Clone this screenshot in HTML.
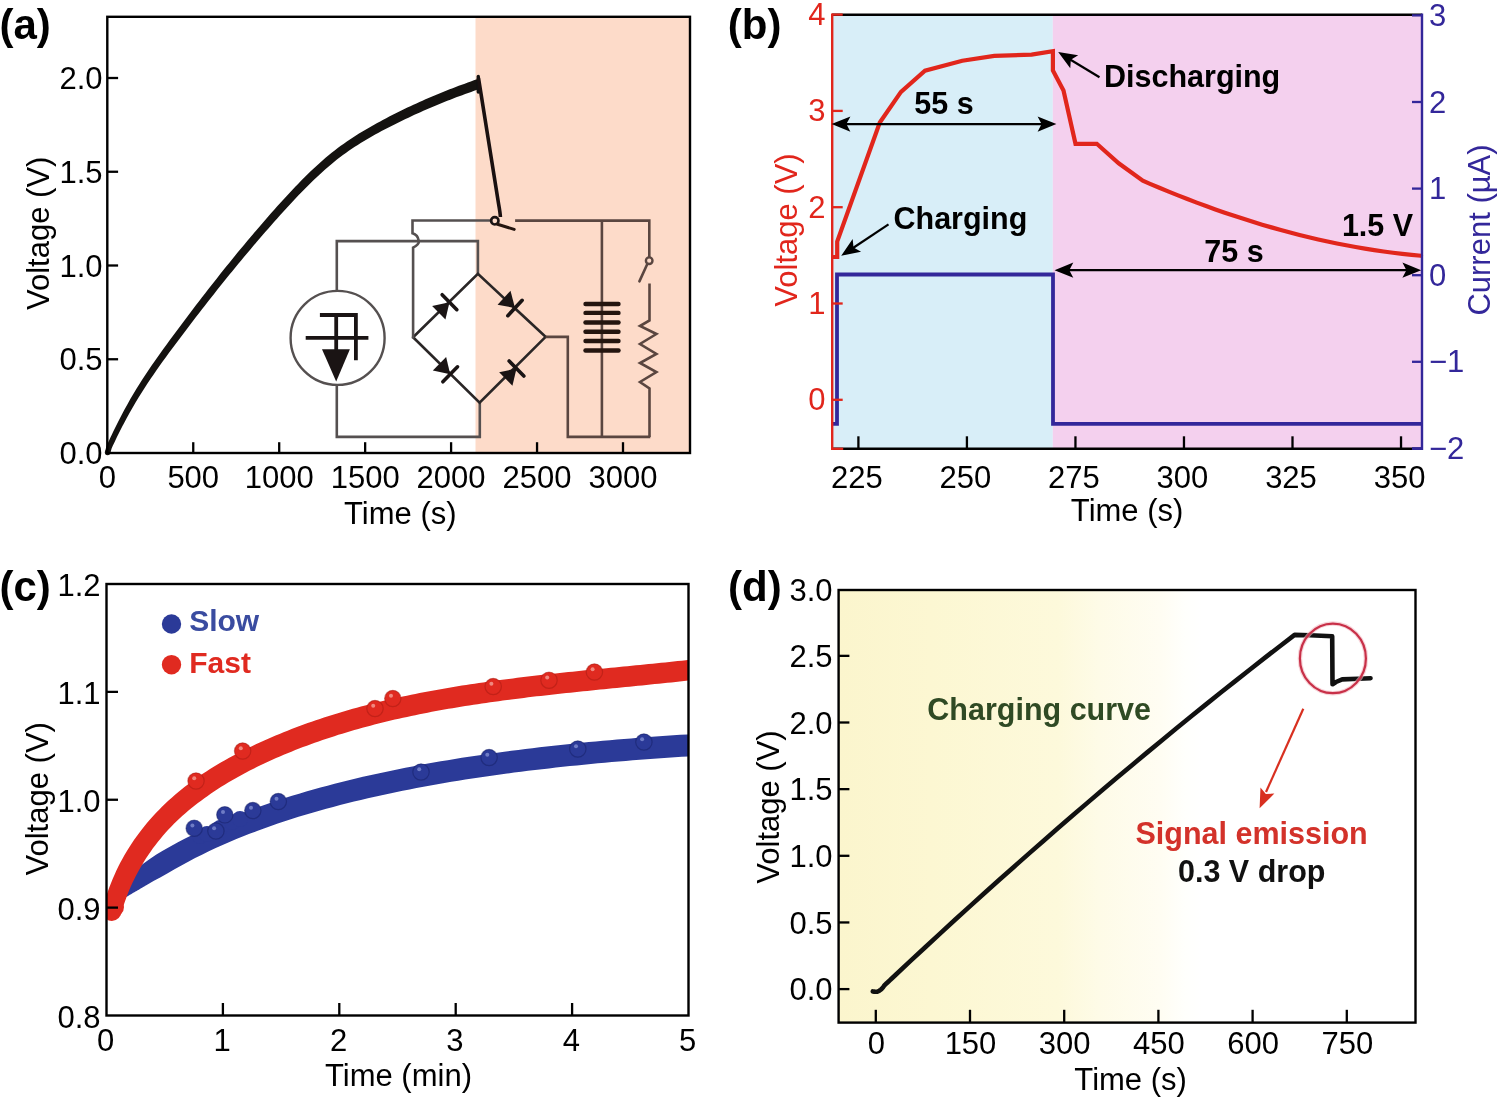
<!DOCTYPE html>
<html><head><meta charset="utf-8"><title>Figure</title>
<style>html,body{margin:0;padding:0;background:#fff;}svg{display:block;}</style>
</head><body>
<svg width="1502" height="1099" viewBox="0 0 1502 1099" font-family="'Liberation Sans', Arial, Helvetica, sans-serif"><rect x="475.50" y="16.80" width="214.50" height="436.20" fill="#FDDBC9" stroke="none" stroke-width="0"/>
<path d="M110.26,453.32 L111.61,448.39 L112.90,445.62 L114.29,442.65 L115.68,439.73 L117.06,436.85 L118.45,434.03 L119.84,431.24 L121.22,428.51 L122.61,425.81 L123.61,423.89 L126.64,418.21 L129.66,412.73 L132.68,407.42 L135.70,402.27 L138.72,397.27 L141.74,392.41 L144.76,387.68 L147.78,383.07 L150.80,378.56 L153.82,374.15 L156.82,369.82 L159.82,365.55 L162.83,361.36 L165.83,357.21 L168.84,353.11 L171.85,349.03 L174.87,344.98 L177.88,340.95 L180.89,336.93 L183.91,332.93 L186.92,328.94 L189.93,324.98 L192.95,321.03 L195.96,317.10 L198.97,313.18 L201.99,309.29 L205.00,305.42 L208.01,301.56 L211.02,297.72 L214.04,293.90 L217.05,290.10 L220.06,286.32 L223.07,282.56 L226.08,278.82 L229.09,275.11 L232.11,271.41 L235.12,267.73 L238.13,264.07 L241.14,260.43 L244.15,256.81 L247.16,253.22 L250.17,249.65 L253.18,246.09 L256.19,242.56 L259.20,239.05 L262.20,235.56 L265.21,232.10 L268.21,228.65 L271.22,225.23 L274.23,221.83 L277.23,218.46 L280.24,215.11 L283.24,211.78 L286.24,208.48 L289.24,205.21 L292.24,201.97 L295.24,198.77 L298.24,195.61 L301.23,192.50 L304.22,189.43 L307.21,186.41 L310.20,183.44 L313.19,180.53 L316.17,177.67 L319.15,174.88 L322.13,172.15 L325.10,169.49 L328.07,166.90 L331.04,164.38 L334.00,161.95 L336.96,159.58 L339.93,157.30 L342.90,155.08 L345.86,152.93 L348.83,150.84 L351.80,148.82 L354.77,146.85 L357.74,144.93 L360.71,143.06 L363.68,141.24 L366.65,139.46 L369.63,137.73 L372.61,136.03 L375.59,134.36 L378.57,132.73 L381.55,131.12 L384.54,129.54 L387.53,127.99 L390.52,126.45 L393.51,124.93 L396.50,123.44 L399.49,121.97 L402.48,120.51 L405.47,119.07 L408.45,117.65 L411.44,116.25 L414.42,114.86 L417.41,113.50 L420.39,112.15 L423.38,110.83 L426.36,109.52 L429.35,108.23 L432.34,106.95 L435.32,105.70 L438.31,104.46 L441.29,103.24 L444.28,102.03 L447.27,100.84 L450.25,99.67 L453.24,98.51 L456.23,97.37 L459.21,96.24 L462.20,95.13 L465.19,94.04 L468.18,92.95 L471.17,91.88 L474.15,90.83 L477.14,89.79 L480.14,88.76 L476.86,79.31 L473.85,80.37 L470.83,81.44 L467.81,82.53 L464.79,83.63 L461.77,84.74 L458.75,85.87 L455.73,87.02 L452.71,88.18 L449.68,89.35 L446.66,90.54 L443.64,91.75 L440.62,92.98 L437.60,94.22 L434.57,95.47 L431.55,96.75 L428.53,98.04 L425.51,99.35 L422.48,100.68 L419.46,102.02 L416.44,103.39 L413.42,104.77 L410.39,106.17 L407.37,107.59 L404.35,109.04 L401.32,110.50 L398.30,111.98 L395.28,113.49 L392.26,115.03 L389.24,116.58 L386.23,118.16 L383.21,119.75 L380.19,121.38 L377.17,123.02 L374.14,124.69 L371.12,126.40 L368.09,128.14 L365.06,129.92 L362.03,131.74 L358.99,133.60 L355.96,135.51 L352.92,137.47 L349.88,139.48 L346.84,141.55 L343.80,143.68 L340.76,145.87 L337.72,148.12 L334.67,150.45 L331.63,152.84 L328.59,155.31 L325.54,157.85 L322.50,160.46 L319.46,163.15 L316.43,165.90 L313.40,168.71 L310.37,171.58 L307.34,174.52 L304.32,177.50 L301.30,180.54 L298.28,183.63 L295.26,186.76 L292.25,189.93 L289.24,193.15 L286.23,196.40 L283.22,199.68 L280.21,203.00 L277.21,206.34 L274.20,209.71 L271.20,213.10 L268.19,216.51 L265.19,219.95 L262.19,223.41 L259.19,226.89 L256.18,230.39 L253.18,233.92 L250.18,237.46 L247.18,241.03 L244.18,244.63 L241.19,248.24 L238.19,251.87 L235.19,255.53 L232.19,259.21 L229.19,262.90 L226.20,266.62 L223.20,270.36 L220.20,274.11 L217.21,277.89 L214.21,281.68 L211.21,285.50 L208.22,289.33 L205.22,293.19 L202.22,297.06 L199.23,300.95 L196.23,304.86 L193.24,308.79 L190.24,312.73 L187.25,316.70 L184.25,320.68 L181.26,324.68 L178.26,328.69 L175.27,332.73 L172.27,336.78 L169.28,340.85 L166.28,344.93 L163.28,349.04 L160.28,353.19 L157.28,357.39 L154.28,361.65 L151.27,365.97 L148.27,370.38 L145.27,374.88 L142.29,379.49 L139.30,384.20 L136.31,389.04 L133.32,394.01 L130.33,399.12 L127.34,404.38 L124.36,409.80 L121.37,415.40 L118.39,421.17 L117.39,423.15 L116.02,425.89 L114.65,428.68 L113.28,431.51 L111.91,434.39 L110.55,437.31 L109.18,440.28 L107.81,443.30 L106.35,446.61 L104.94,451.88 Z" fill="#141210"/>
<circle cx="107.60" cy="452.60" r="2.76" fill="#141210"/>
<polyline points="478.30,92.00 478.30,76.50" fill="none" stroke="#111" stroke-width="3.4" stroke-linejoin="round" stroke-linecap="round"/>
<path d="M478.5,78 L498.6,204 Q500.2,213 500.4,217" fill="none" stroke="#1a1010" stroke-width="3.6"/>
<g stroke-linecap="square">
<polyline points="336.80,290.50 336.80,241.10 477.90,241.10 477.90,273.80" fill="none" stroke="#555050" stroke-width="2.6" stroke-linejoin="miter" stroke-linecap="butt"/>
<polyline points="336.80,385.00 336.80,436.90 479.80,436.90 479.80,402.70" fill="none" stroke="#555050" stroke-width="2.6" stroke-linejoin="miter" stroke-linecap="butt"/>
<circle cx="337.6" cy="337.9" r="47" fill="none" stroke="#555050" stroke-width="2.4"/>
<polyline points="305.70,337.90 368.40,337.90" fill="none" stroke="#1a1414" stroke-width="3.8" stroke-linejoin="round" stroke-linecap="butt"/>
<polyline points="319.90,315.00 355.90,315.00 355.90,360.30" fill="none" stroke="#1a1414" stroke-width="3.8" stroke-linecap="butt" stroke-linejoin="miter"/>
<polyline points="336.20,315.00 336.20,352.00" fill="none" stroke="#1a1414" stroke-width="3.8" stroke-linejoin="round" stroke-linecap="butt"/>
<path d="M322,349.3 L349.9,349.3 L336.2,381.5 Z" fill="#1a1414"/>
<polyline points="413.10,337.20 477.90,273.80 545.60,336.90 479.60,402.70 413.10,337.20" fill="none" stroke="#2a2626" stroke-width="2.6" stroke-linecap="round" stroke-linejoin="miter"/>
<path d="M413.1,337.2 L413.1,247.6 Q420,244 418.6,240.5 Q418,235 412.5,233.3 L412.5,220.5 L491,220.5" fill="none" stroke="#555050" stroke-width="2.6" stroke-linejoin="miter"/>
<circle cx="494.8" cy="220.8" r="3.7" fill="none" stroke="#1a1414" stroke-width="2.6"/>
<polyline points="497.50,224.30 514.20,229.40" fill="none" stroke="#24150f" stroke-width="3" stroke-linejoin="round" stroke-linecap="round"/>
<polyline points="515.10,220.60 649.30,220.60 649.30,257.30" fill="none" stroke="#5A4640" stroke-width="2.6" stroke-linejoin="miter" stroke-linecap="butt"/>
<polyline points="545.60,336.90 567.80,336.90 567.80,436.90 650.30,436.90" fill="none" stroke="#5A4640" stroke-width="2.6" stroke-linejoin="miter" stroke-linecap="butt"/>
<polyline points="601.90,220.60 601.90,436.90" fill="none" stroke="#5A4640" stroke-width="2.6" stroke-linejoin="round" stroke-linecap="butt"/>
<polyline points="585.50,304.00 618.50,304.00" fill="none" stroke="#24150f" stroke-width="4.4" stroke-linejoin="round" stroke-linecap="round"/>
<polyline points="585.50,312.90 618.50,312.90" fill="none" stroke="#24150f" stroke-width="4.4" stroke-linejoin="round" stroke-linecap="round"/>
<polyline points="585.50,322.50 618.50,322.50" fill="none" stroke="#24150f" stroke-width="4.4" stroke-linejoin="round" stroke-linecap="round"/>
<polyline points="585.50,331.70 618.50,331.70" fill="none" stroke="#24150f" stroke-width="4.4" stroke-linejoin="round" stroke-linecap="round"/>
<polyline points="585.50,341.00 618.50,341.00" fill="none" stroke="#24150f" stroke-width="4.4" stroke-linejoin="round" stroke-linecap="round"/>
<polyline points="585.50,350.50 618.50,350.50" fill="none" stroke="#24150f" stroke-width="4.4" stroke-linejoin="round" stroke-linecap="round"/>
<circle cx="649.2" cy="260.7" r="3.3" fill="none" stroke="#5A4640" stroke-width="2.4"/>
<polyline points="647.20,264.30 639.40,281.40" fill="none" stroke="#5A4640" stroke-width="2.6" stroke-linejoin="round" stroke-linecap="round"/>
<polyline points="649.50,283.50 649.50,320.50 640.00,326.00 656.40,334.00 640.00,344.00 656.40,354.00 640.00,363.00 656.40,372.00 640.00,382.00 649.50,388.50 649.50,436.90" fill="none" stroke="#5A4640" stroke-width="2.6" stroke-linejoin="miter" stroke-linecap="butt"/>
</g>
<path d="M449.50,302.20 L445.43,319.48 L432.14,305.91 Z" fill="#1a1414"/>
<polyline points="456.85,309.70 442.15,294.70" fill="none" stroke="#1a1414" stroke-width="3.6" stroke-linejoin="round" stroke-linecap="round"/>
<path d="M515.00,308.00 L497.55,304.72 L510.51,290.82 Z" fill="#1a1414"/>
<polyline points="507.84,315.68 522.16,300.32" fill="none" stroke="#1a1414" stroke-width="3.6" stroke-linejoin="round" stroke-linecap="round"/>
<path d="M450.20,374.30 L432.84,370.59 L446.13,357.02 Z" fill="#1a1414"/>
<polyline points="442.85,381.80 457.55,366.80" fill="none" stroke="#1a1414" stroke-width="3.6" stroke-linejoin="round" stroke-linecap="round"/>
<path d="M516.50,368.50 L512.43,385.78 L499.14,372.21 Z" fill="#1a1414"/>
<polyline points="523.85,376.00 509.15,361.00" fill="none" stroke="#1a1414" stroke-width="3.6" stroke-linejoin="round" stroke-linecap="round"/>
<rect x="107.30" y="16.80" width="582.70" height="436.20" fill="none" stroke="#000" stroke-width="2.4"/>
<text x="107.30" y="488.00" font-size="31" text-anchor="middle" font-weight="normal" fill="#000">0</text>
<line x1="193.25" y1="453.00" x2="193.25" y2="442.20" stroke="#000" stroke-width="2.3"/>
<text x="193.25" y="488.00" font-size="31" text-anchor="middle" font-weight="normal" fill="#000">500</text>
<line x1="279.20" y1="453.00" x2="279.20" y2="442.20" stroke="#000" stroke-width="2.3"/>
<text x="279.20" y="488.00" font-size="31" text-anchor="middle" font-weight="normal" fill="#000">1000</text>
<line x1="365.15" y1="453.00" x2="365.15" y2="442.20" stroke="#000" stroke-width="2.3"/>
<text x="365.15" y="488.00" font-size="31" text-anchor="middle" font-weight="normal" fill="#000">1500</text>
<line x1="451.10" y1="453.00" x2="451.10" y2="442.20" stroke="#000" stroke-width="2.3"/>
<text x="451.10" y="488.00" font-size="31" text-anchor="middle" font-weight="normal" fill="#000">2000</text>
<line x1="537.05" y1="453.00" x2="537.05" y2="442.20" stroke="#000" stroke-width="2.3"/>
<text x="537.05" y="488.00" font-size="31" text-anchor="middle" font-weight="normal" fill="#000">2500</text>
<line x1="623.00" y1="453.00" x2="623.00" y2="442.20" stroke="#000" stroke-width="2.3"/>
<text x="623.00" y="488.00" font-size="31" text-anchor="middle" font-weight="normal" fill="#000">3000</text>
<text x="102.50" y="464.00" font-size="31" text-anchor="end" font-weight="normal" fill="#000">0.0</text>
<line x1="107.30" y1="359.25" x2="118.10" y2="359.25" stroke="#000" stroke-width="2.3"/>
<text x="102.50" y="370.25" font-size="31" text-anchor="end" font-weight="normal" fill="#000">0.5</text>
<line x1="107.30" y1="265.50" x2="118.10" y2="265.50" stroke="#000" stroke-width="2.3"/>
<text x="102.50" y="276.50" font-size="31" text-anchor="end" font-weight="normal" fill="#000">1.0</text>
<line x1="107.30" y1="171.75" x2="118.10" y2="171.75" stroke="#000" stroke-width="2.3"/>
<text x="102.50" y="182.75" font-size="31" text-anchor="end" font-weight="normal" fill="#000">1.5</text>
<line x1="107.30" y1="78.00" x2="118.10" y2="78.00" stroke="#000" stroke-width="2.3"/>
<text x="102.50" y="89.00" font-size="31" text-anchor="end" font-weight="normal" fill="#000">2.0</text>
<text x="400.30" y="524.00" font-size="31" text-anchor="middle" font-weight="normal" fill="#000">Time (s)</text>
<text x="49.50" y="233.30" font-size="31" text-anchor="middle" font-weight="normal" fill="#000" transform="rotate(-90 49.5 233.3)">Voltage (V)</text>
<text x="-0.50" y="38.50" font-size="42" text-anchor="start" font-weight="bold" fill="#000">(a)</text>
<rect x="832.20" y="14.80" width="220.60" height="434.00" fill="#D8EEF8" stroke="none" stroke-width="0"/>
<rect x="1052.80" y="14.80" width="369.20" height="434.00" fill="#F4D0EE" stroke="none" stroke-width="0"/>
<polyline points="833.00,423.80 837.00,423.80 837.00,274.50 1053.00,274.50 1053.00,423.80 1421.00,423.80" fill="none" stroke="#33279A" stroke-width="3.8" stroke-linecap="butt" stroke-linejoin="miter"/>
<polyline points="833.50,257.00 837.20,257.00 837.20,241.50 879.80,122.50 901.00,91.90 925.00,70.60 962.30,60.70 994.30,55.90 1031.60,54.60 1052.90,51.10 1052.90,70.60 1063.50,90.50 1075.50,143.80 1096.80,143.80 1118.70,163.30 1142.80,180.70 1150.00,183.84 1159.34,187.78 1168.69,191.63 1178.03,195.38 1187.38,199.03 1196.72,202.59 1206.07,206.05 1215.41,209.41 1224.76,212.66 1234.10,215.82 1243.45,218.87 1252.79,221.82 1262.14,224.66 1271.48,227.39 1280.83,230.02 1290.17,232.54 1299.52,234.95 1308.86,237.24 1318.21,239.43 1327.55,241.50 1336.90,243.46 1346.24,245.30 1355.59,247.03 1364.93,248.64 1374.28,250.13 1383.62,251.50 1392.97,252.75 1402.31,253.88 1411.66,254.89 1421.00,255.77" fill="none" stroke="#E1261C" stroke-width="4.2" stroke-linecap="round" stroke-linejoin="miter"/>
<line x1="832.20" y1="14.80" x2="1422.00" y2="14.80" stroke="#000" stroke-width="2.4"/>
<line x1="832.20" y1="448.80" x2="1422.00" y2="448.80" stroke="#000" stroke-width="2.4"/>
<line x1="832.20" y1="13.60" x2="832.20" y2="450.00" stroke="#E1261C" stroke-width="2.4"/>
<line x1="1422.00" y1="13.60" x2="1422.00" y2="450.00" stroke="#33279A" stroke-width="2.4"/>
<line x1="858.40" y1="448.80" x2="858.40" y2="436.30" stroke="#000" stroke-width="2.3"/>
<text x="856.90" y="488.20" font-size="31" text-anchor="middle" font-weight="normal" fill="#000">225</text>
<line x1="966.92" y1="448.80" x2="966.92" y2="436.30" stroke="#000" stroke-width="2.3"/>
<text x="965.42" y="488.20" font-size="31" text-anchor="middle" font-weight="normal" fill="#000">250</text>
<line x1="1075.45" y1="448.80" x2="1075.45" y2="436.30" stroke="#000" stroke-width="2.3"/>
<text x="1073.95" y="488.20" font-size="31" text-anchor="middle" font-weight="normal" fill="#000">275</text>
<line x1="1183.97" y1="448.80" x2="1183.97" y2="436.30" stroke="#000" stroke-width="2.3"/>
<text x="1182.47" y="488.20" font-size="31" text-anchor="middle" font-weight="normal" fill="#000">300</text>
<line x1="1292.50" y1="448.80" x2="1292.50" y2="436.30" stroke="#000" stroke-width="2.3"/>
<text x="1291.00" y="488.20" font-size="31" text-anchor="middle" font-weight="normal" fill="#000">325</text>
<line x1="1401.03" y1="448.80" x2="1401.03" y2="436.30" stroke="#000" stroke-width="2.3"/>
<text x="1399.53" y="488.20" font-size="31" text-anchor="middle" font-weight="normal" fill="#000">350</text>
<line x1="832.20" y1="399.80" x2="842.70" y2="399.80" stroke="#E1261C" stroke-width="2.3"/>
<text x="825.50" y="410.30" font-size="31" text-anchor="end" font-weight="normal" fill="#E1261C">0</text>
<line x1="832.20" y1="303.50" x2="842.70" y2="303.50" stroke="#E1261C" stroke-width="2.3"/>
<text x="825.50" y="314.00" font-size="31" text-anchor="end" font-weight="normal" fill="#E1261C">1</text>
<line x1="832.20" y1="207.20" x2="842.70" y2="207.20" stroke="#E1261C" stroke-width="2.3"/>
<text x="825.50" y="217.70" font-size="31" text-anchor="end" font-weight="normal" fill="#E1261C">2</text>
<line x1="832.20" y1="110.90" x2="842.70" y2="110.90" stroke="#E1261C" stroke-width="2.3"/>
<text x="825.50" y="121.40" font-size="31" text-anchor="end" font-weight="normal" fill="#E1261C">3</text>
<line x1="832.20" y1="14.60" x2="842.70" y2="14.60" stroke="#E1261C" stroke-width="2.3"/>
<text x="825.50" y="25.10" font-size="31" text-anchor="end" font-weight="normal" fill="#E1261C">4</text>
<line x1="1412.00" y1="448.40" x2="1422.00" y2="448.40" stroke="#33279A" stroke-width="2.3"/>
<text x="1429.00" y="458.90" font-size="31" text-anchor="start" font-weight="normal" fill="#33279A">−2</text>
<line x1="1412.00" y1="361.80" x2="1422.00" y2="361.80" stroke="#33279A" stroke-width="2.3"/>
<text x="1429.00" y="372.30" font-size="31" text-anchor="start" font-weight="normal" fill="#33279A">−1</text>
<line x1="1412.00" y1="275.20" x2="1422.00" y2="275.20" stroke="#33279A" stroke-width="2.3"/>
<text x="1429.00" y="285.70" font-size="31" text-anchor="start" font-weight="normal" fill="#33279A">0</text>
<line x1="1412.00" y1="188.60" x2="1422.00" y2="188.60" stroke="#33279A" stroke-width="2.3"/>
<text x="1429.00" y="199.10" font-size="31" text-anchor="start" font-weight="normal" fill="#33279A">1</text>
<line x1="1412.00" y1="102.00" x2="1422.00" y2="102.00" stroke="#33279A" stroke-width="2.3"/>
<text x="1429.00" y="112.50" font-size="31" text-anchor="start" font-weight="normal" fill="#33279A">2</text>
<line x1="1412.00" y1="15.40" x2="1422.00" y2="15.40" stroke="#33279A" stroke-width="2.3"/>
<text x="1429.00" y="25.90" font-size="31" text-anchor="start" font-weight="normal" fill="#33279A">3</text>
<line x1="832.20" y1="448.80" x2="843.20" y2="448.80" stroke="#E1261C" stroke-width="2.3"/>
<line x1="1412.00" y1="448.80" x2="1422.00" y2="448.80" stroke="#33279A" stroke-width="2.3"/>
<text x="1127.10" y="521.20" font-size="31" text-anchor="middle" font-weight="normal" fill="#000">Time (s)</text>
<text x="796.50" y="230.00" font-size="31" text-anchor="middle" font-weight="normal" fill="#E1261C" transform="rotate(-90 796.5 230)">Voltage (V)</text>
<text x="1490.00" y="230.00" font-size="31" text-anchor="middle" font-weight="normal" fill="#33279A" transform="rotate(-90 1490 230)">Current (µA)</text>
<text x="727.80" y="38.50" font-size="42" text-anchor="start" font-weight="bold" fill="#000">(b)</text>
<line x1="836.00" y1="124.10" x2="1052.00" y2="124.10" stroke="#000" stroke-width="2.2"/>
<path d="M831.60,124.10 L850.40,116.50 L846.40,124.10 L850.40,131.70 Z" fill="#000"/>
<path d="M1056.40,124.10 L1037.60,131.70 L1041.60,124.10 L1037.60,116.50 Z" fill="#000"/>
<text x="944.00" y="114.30" font-size="30.5" text-anchor="middle" font-weight="bold" fill="#000">55 s</text>
<line x1="1058.00" y1="270.20" x2="1417.00" y2="270.20" stroke="#000" stroke-width="2.2"/>
<path d="M1054.50,270.20 L1073.30,262.60 L1069.30,270.20 L1073.30,277.80 Z" fill="#000"/>
<path d="M1421.20,270.20 L1402.40,277.80 L1406.40,270.20 L1402.40,262.60 Z" fill="#000"/>
<text x="1234.00" y="262.40" font-size="30.5" text-anchor="middle" font-weight="bold" fill="#000">75 s</text>
<text x="893.50" y="229.00" font-size="30.5" text-anchor="start" font-weight="bold" fill="#000">Charging</text>
<line x1="888.50" y1="224.30" x2="850.00" y2="250.00" stroke="#000" stroke-width="2.2"/>
<path d="M841.20,255.70 L852.66,238.97 L853.53,247.51 L861.07,251.63 Z" fill="#000"/>
<text x="1104.00" y="87.00" font-size="30.5" text-anchor="start" font-weight="bold" fill="#000">Discharging</text>
<line x1="1099.50" y1="77.20" x2="1066.00" y2="57.00" stroke="#000" stroke-width="2.2"/>
<path d="M1058.20,51.90 L1078.20,55.24 L1070.82,59.63 L1070.26,68.20 Z" fill="#000"/>
<text x="1377.50" y="235.90" font-size="30.5" text-anchor="middle" font-weight="bold" fill="#000">1.5 V</text>
<defs><clipPath id="cclip"><rect x="106.5" y="584" width="582.0" height="431.5"/></clipPath></defs>
<g clip-path="url(#cclip)">
<path d="M124.31,898.23 L125.44,897.52 L126.56,896.83 L127.68,896.15 L128.80,895.47 L129.91,894.80 L131.03,894.13 L132.14,893.47 L133.26,892.82 L134.37,892.17 L135.49,891.53 L136.60,890.89 L137.71,890.26 L138.82,889.63 L139.93,889.01 L141.02,888.37 L142.09,887.71 L143.17,887.06 L144.25,886.42 L145.32,885.78 L146.28,885.22 L153.51,881.07 L160.65,877.16 L167.70,873.31 L174.54,869.29 L181.39,865.42 L188.25,861.70 L195.11,858.11 L201.97,854.66 L208.84,851.33 L215.72,848.12 L222.60,845.02 L229.48,842.02 L236.37,839.12 L243.26,836.32 L250.16,833.61 L257.06,830.99 L263.96,828.45 L270.87,825.99 L277.78,823.60 L284.69,821.29 L291.61,819.04 L298.53,816.87 L305.46,814.76 L312.38,812.71 L319.31,810.72 L326.24,808.78 L333.18,806.90 L340.12,805.08 L347.05,803.31 L354.00,801.58 L360.94,799.91 L367.88,798.28 L374.83,796.69 L381.78,795.15 L388.73,793.65 L395.68,792.20 L402.64,790.78 L409.59,789.40 L416.55,788.05 L423.51,786.75 L430.47,785.47 L437.43,784.24 L444.40,783.03 L451.36,781.86 L458.33,780.72 L465.29,779.60 L472.26,778.52 L479.23,777.47 L486.20,776.45 L493.17,775.45 L500.14,774.48 L507.12,773.53 L514.09,772.61 L521.06,771.72 L528.04,770.85 L535.02,770.00 L541.99,769.18 L548.97,768.38 L555.95,767.60 L562.93,766.84 L569.91,766.10 L576.89,765.39 L583.87,764.69 L590.86,764.01 L597.84,763.35 L604.82,762.72 L611.81,762.10 L618.79,761.49 L625.78,760.91 L632.76,760.34 L639.75,759.79 L646.74,759.26 L653.72,758.74 L660.71,758.24 L667.70,757.75 L674.69,757.28 L681.68,756.82 L688.67,756.38 L695.67,755.96 L694.33,734.00 L687.31,734.43 L680.27,734.87 L673.23,735.33 L666.20,735.80 L659.16,736.29 L652.12,736.80 L645.09,737.32 L638.05,737.86 L631.01,738.41 L623.97,738.98 L616.93,739.57 L609.89,740.18 L602.85,740.80 L595.81,741.45 L588.76,742.11 L581.72,742.79 L574.68,743.50 L567.63,744.22 L560.59,744.96 L553.54,745.73 L546.50,746.52 L539.45,747.33 L532.40,748.16 L525.35,749.01 L518.30,749.89 L511.25,750.80 L504.20,751.73 L497.15,752.68 L490.10,753.66 L483.04,754.67 L475.99,755.71 L468.93,756.78 L461.87,757.87 L454.81,759.00 L447.75,760.16 L440.69,761.34 L433.63,762.57 L426.57,763.82 L419.50,765.11 L412.44,766.44 L405.37,767.81 L398.30,769.21 L391.23,770.65 L384.15,772.14 L377.08,773.66 L370.00,775.23 L362.93,776.84 L355.85,778.50 L348.76,780.21 L341.68,781.97 L334.59,783.78 L327.50,785.65 L320.41,787.57 L313.32,789.55 L306.22,791.59 L299.13,793.69 L292.02,795.85 L284.92,798.09 L277.81,800.39 L270.70,802.77 L263.59,805.23 L256.47,807.76 L249.35,810.38 L242.22,813.09 L235.09,815.89 L227.96,818.79 L220.82,821.79 L213.68,824.90 L206.54,828.13 L199.39,831.47 L192.23,834.93 L185.07,838.54 L177.90,842.28 L170.73,846.17 L163.56,850.23 L156.38,854.45 L149.40,859.19 L142.52,864.26 L135.72,869.47 L134.68,870.28 L133.65,871.09 L132.62,871.91 L131.59,872.73 L130.56,873.56 L129.54,874.40 L128.55,875.28 L127.55,876.17 L126.56,877.06 L125.57,877.96 L124.58,878.86 L123.58,879.77 L122.59,880.68 L121.60,881.60 L120.61,882.52 L119.62,883.45 L118.64,884.38 L117.65,885.32 L116.66,886.26 L115.69,887.20 Z" fill="#2B3A98"/>
<circle cx="120.00" cy="892.72" r="7.00" fill="#2B3A98"/>
<circle cx="200" cy="836" r="8" fill="#2B3A98"/>
<circle cx="207" cy="834" r="8" fill="#2B3A98"/>
<circle cx="220" cy="828" r="8" fill="#2B3A98"/>
<circle cx="232" cy="822" r="8" fill="#2B3A98"/>
<circle cx="240" cy="819" r="8" fill="#2B3A98"/>
<circle cx="194.2" cy="828.2" r="8.2" fill="#2B3A98" stroke="#141C60" stroke-width="1.2" stroke-opacity="0.45"/>
<circle cx="192.4" cy="825.4" r="2" fill="#8C98D8" fill-opacity="0.7"/>
<circle cx="215.9" cy="831.0" r="8.2" fill="#2B3A98" stroke="#141C60" stroke-width="1.2" stroke-opacity="0.45"/>
<circle cx="214.1" cy="828.2" r="2" fill="#8C98D8" fill-opacity="0.7"/>
<circle cx="224.8" cy="814.8" r="8.2" fill="#2B3A98" stroke="#141C60" stroke-width="1.2" stroke-opacity="0.45"/>
<circle cx="223.0" cy="812.0" r="2" fill="#8C98D8" fill-opacity="0.7"/>
<circle cx="252.8" cy="810.5" r="8.2" fill="#2B3A98" stroke="#141C60" stroke-width="1.2" stroke-opacity="0.45"/>
<circle cx="251.0" cy="807.7" r="2" fill="#8C98D8" fill-opacity="0.7"/>
<circle cx="278.3" cy="801.5" r="8.2" fill="#2B3A98" stroke="#141C60" stroke-width="1.2" stroke-opacity="0.45"/>
<circle cx="276.5" cy="798.7" r="2" fill="#8C98D8" fill-opacity="0.7"/>
<circle cx="421.0" cy="772.0" r="8.2" fill="#2B3A98" stroke="#141C60" stroke-width="1.2" stroke-opacity="0.45"/>
<circle cx="419.2" cy="769.2" r="2" fill="#8C98D8" fill-opacity="0.7"/>
<circle cx="489.1" cy="757.5" r="8.2" fill="#2B3A98" stroke="#141C60" stroke-width="1.2" stroke-opacity="0.45"/>
<circle cx="487.3" cy="754.7" r="2" fill="#8C98D8" fill-opacity="0.7"/>
<circle cx="577.8" cy="749.0" r="8.2" fill="#2B3A98" stroke="#141C60" stroke-width="1.2" stroke-opacity="0.45"/>
<circle cx="576.0" cy="746.2" r="2" fill="#8C98D8" fill-opacity="0.7"/>
<circle cx="643.9" cy="742.0" r="8.2" fill="#2B3A98" stroke="#141C60" stroke-width="1.2" stroke-opacity="0.45"/>
<circle cx="642.1" cy="739.2" r="2" fill="#8C98D8" fill-opacity="0.7"/>
<circle cx="114.5" cy="907" r="9.5" fill="#E02A20"/>
<path d="M121.15,913.85 L122.29,909.79 L123.48,905.87 L124.76,901.99 L126.12,898.13 L127.57,894.32 L129.09,890.53 L130.69,886.79 L132.37,883.09 L134.12,879.43 L135.95,875.81 L137.85,872.23 L139.81,868.69 L141.83,865.19 L143.91,861.73 L146.06,858.31 L148.28,854.95 L150.56,851.63 L152.90,848.37 L155.30,845.15 L157.76,841.99 L160.28,838.88 L162.86,835.82 L165.49,832.82 L168.18,829.87 L170.93,826.97 L173.72,824.12 L176.57,821.32 L179.47,818.57 L182.42,815.87 L185.42,813.21 L188.47,810.61 L191.56,808.05 L194.70,805.53 L197.88,803.06 L201.11,800.63 L204.37,798.25 L207.67,795.90 L211.00,793.58 L214.37,791.30 L217.77,789.06 L221.21,786.86 L224.68,784.70 L228.18,782.57 L231.72,780.49 L235.29,778.44 L238.88,776.42 L242.50,774.44 L246.15,772.50 L249.82,770.59 L253.51,768.72 L257.22,766.87 L260.96,765.06 L264.71,763.28 L268.48,761.53 L272.27,759.81 L276.07,758.12 L279.88,756.46 L283.71,754.83 L287.54,753.23 L291.39,751.66 L295.24,750.11 L299.11,748.59 L302.99,747.10 L306.88,745.64 L310.78,744.20 L314.69,742.79 L318.61,741.41 L322.54,740.05 L326.48,738.72 L330.43,737.41 L334.39,736.13 L338.36,734.87 L342.34,733.63 L346.32,732.42 L350.32,731.24 L354.32,730.07 L358.33,728.93 L362.35,727.81 L366.38,726.71 L370.42,725.64 L374.47,724.58 L378.52,723.55 L382.58,722.54 L386.65,721.55 L390.72,720.57 L394.80,719.62 L398.89,718.69 L402.99,717.77 L407.09,716.88 L411.20,716.00 L415.31,715.14 L419.43,714.29 L423.56,713.47 L427.69,712.66 L431.83,711.87 L435.98,711.09 L440.12,710.33 L444.28,709.58 L448.44,708.85 L452.60,708.14 L456.77,707.44 L460.94,706.75 L465.12,706.07 L469.30,705.41 L473.48,704.77 L477.67,704.13 L481.86,703.51 L486.06,702.90 L490.26,702.30 L494.46,701.71 L498.66,701.13 L502.87,700.57 L507.08,700.01 L511.29,699.46 L515.51,698.92 L519.73,698.40 L523.94,697.88 L528.16,697.36 L532.39,696.86 L536.61,696.36 L540.83,695.88 L545.06,695.39 L549.29,694.92 L553.51,694.45 L557.74,693.99 L561.97,693.53 L566.20,693.08 L570.42,692.63 L574.65,692.18 L578.88,691.75 L583.11,691.31 L587.33,690.88 L591.56,690.45 L595.79,690.02 L600.01,689.60 L604.23,689.17 L608.45,688.75 L612.67,688.33 L616.89,687.91 L621.11,687.50 L625.32,687.08 L629.53,686.66 L633.74,686.24 L637.95,685.82 L642.15,685.40 L646.35,684.97 L650.55,684.55 L654.74,684.12 L658.93,683.69 L663.12,683.25 L667.31,682.82 L671.49,682.38 L675.66,681.93 L679.83,681.48 L684.00,681.02 L688.16,680.56 L692.32,680.10 L696.47,679.62 L700.61,679.15 L698.27,658.78 L694.15,659.25 L690.03,659.72 L685.90,660.18 L681.77,660.63 L677.63,661.08 L673.48,661.52 L669.33,661.96 L665.17,662.39 L661.01,662.83 L656.84,663.25 L652.66,663.68 L648.48,664.10 L644.29,664.52 L640.10,664.94 L635.91,665.36 L631.71,665.77 L627.50,666.19 L623.30,666.60 L619.08,667.02 L614.87,667.43 L610.65,667.84 L606.42,668.26 L602.19,668.68 L597.96,669.10 L593.73,669.52 L589.49,669.94 L585.25,670.37 L581.01,670.80 L576.77,671.23 L572.52,671.67 L568.27,672.11 L564.02,672.56 L559.77,673.01 L555.52,673.46 L551.26,673.93 L547.00,674.39 L542.75,674.87 L538.49,675.35 L534.23,675.84 L529.97,676.33 L525.71,676.84 L521.45,677.35 L517.18,677.87 L512.92,678.40 L508.66,678.94 L504.40,679.49 L500.14,680.05 L495.88,680.62 L491.63,681.20 L487.37,681.79 L483.11,682.39 L478.86,683.01 L474.61,683.64 L470.36,684.28 L466.11,684.93 L461.86,685.60 L457.61,686.28 L453.37,686.97 L449.13,687.68 L444.89,688.40 L440.66,689.14 L436.43,689.90 L432.20,690.67 L427.98,691.46 L423.75,692.26 L419.54,693.08 L415.32,693.92 L411.11,694.78 L406.91,695.65 L402.71,696.55 L398.51,697.46 L394.32,698.39 L390.13,699.34 L385.95,700.32 L381.77,701.31 L377.60,702.32 L373.44,703.36 L369.28,704.41 L365.12,705.49 L360.97,706.59 L356.83,707.72 L352.70,708.86 L348.57,710.03 L344.45,711.23 L340.33,712.45 L336.22,713.69 L332.12,714.96 L328.03,716.25 L323.94,717.57 L319.87,718.92 L315.80,720.29 L311.73,721.69 L307.68,723.11 L303.64,724.57 L299.60,726.05 L295.57,727.56 L291.56,729.10 L287.55,730.67 L283.55,732.27 L279.56,733.90 L275.58,735.55 L271.61,737.24 L267.65,738.96 L263.70,740.72 L259.76,742.50 L255.83,744.32 L251.91,746.17 L248.01,748.06 L244.12,749.99 L240.24,751.95 L236.39,753.95 L232.55,755.99 L228.74,758.07 L224.94,760.19 L221.17,762.36 L217.43,764.56 L213.71,766.81 L210.01,769.11 L206.35,771.45 L202.72,773.84 L199.12,776.27 L195.55,778.75 L192.03,781.29 L188.55,783.90 L185.10,786.55 L181.70,789.25 L178.34,792.01 L175.03,794.82 L171.75,797.68 L168.53,800.60 L165.35,803.57 L162.22,806.60 L159.14,809.69 L156.11,812.83 L153.14,816.03 L150.22,819.30 L147.36,822.62 L144.56,826.00 L141.82,829.45 L139.15,832.95 L136.54,836.50 L133.99,840.11 L131.52,843.78 L129.11,847.49 L126.78,851.26 L124.52,855.08 L122.33,858.95 L120.23,862.87 L118.21,866.85 L116.28,870.87 L114.42,874.93 L112.65,879.04 L110.96,883.18 L109.35,887.37 L107.82,891.60 L106.38,895.86 L105.03,900.16 L103.77,904.50 L102.62,908.77 Z" fill="#E02A20"/>
<circle cx="111.89" cy="911.31" r="9.61" fill="#E02A20"/>
<circle cx="196.0" cy="781.0" r="8.2" fill="#E02A20" stroke="#A01810" stroke-width="1.2" stroke-opacity="0.45"/>
<circle cx="194.2" cy="778.2" r="2" fill="#F6B0A8" fill-opacity="0.7"/>
<circle cx="242.6" cy="751.0" r="8.2" fill="#E02A20" stroke="#A01810" stroke-width="1.2" stroke-opacity="0.45"/>
<circle cx="240.8" cy="748.2" r="2" fill="#F6B0A8" fill-opacity="0.7"/>
<circle cx="375.0" cy="708.5" r="8.2" fill="#E02A20" stroke="#A01810" stroke-width="1.2" stroke-opacity="0.45"/>
<circle cx="373.2" cy="705.7" r="2" fill="#F6B0A8" fill-opacity="0.7"/>
<circle cx="392.8" cy="698.5" r="8.2" fill="#E02A20" stroke="#A01810" stroke-width="1.2" stroke-opacity="0.45"/>
<circle cx="391.0" cy="695.7" r="2" fill="#F6B0A8" fill-opacity="0.7"/>
<circle cx="493.2" cy="686.5" r="8.2" fill="#E02A20" stroke="#A01810" stroke-width="1.2" stroke-opacity="0.45"/>
<circle cx="491.4" cy="683.7" r="2" fill="#F6B0A8" fill-opacity="0.7"/>
<circle cx="549.0" cy="680.2" r="8.2" fill="#E02A20" stroke="#A01810" stroke-width="1.2" stroke-opacity="0.45"/>
<circle cx="547.2" cy="677.4" r="2" fill="#F6B0A8" fill-opacity="0.7"/>
<circle cx="594.4" cy="672.0" r="8.2" fill="#E02A20" stroke="#A01810" stroke-width="1.2" stroke-opacity="0.45"/>
<circle cx="592.6" cy="669.2" r="2" fill="#F6B0A8" fill-opacity="0.7"/>
</g>
<rect x="106.50" y="584.00" width="582.00" height="431.50" fill="none" stroke="#000" stroke-width="2.4"/>
<text x="105.70" y="1050.50" font-size="31" text-anchor="middle" font-weight="normal" fill="#000">0</text>
<line x1="222.90" y1="1015.50" x2="222.90" y2="1003.00" stroke="#000" stroke-width="2.3"/>
<text x="222.10" y="1050.50" font-size="31" text-anchor="middle" font-weight="normal" fill="#000">1</text>
<line x1="339.30" y1="1015.50" x2="339.30" y2="1003.00" stroke="#000" stroke-width="2.3"/>
<text x="338.50" y="1050.50" font-size="31" text-anchor="middle" font-weight="normal" fill="#000">2</text>
<line x1="455.70" y1="1015.50" x2="455.70" y2="1003.00" stroke="#000" stroke-width="2.3"/>
<text x="454.90" y="1050.50" font-size="31" text-anchor="middle" font-weight="normal" fill="#000">3</text>
<line x1="572.10" y1="1015.50" x2="572.10" y2="1003.00" stroke="#000" stroke-width="2.3"/>
<text x="571.30" y="1050.50" font-size="31" text-anchor="middle" font-weight="normal" fill="#000">4</text>
<text x="687.70" y="1050.50" font-size="31" text-anchor="middle" font-weight="normal" fill="#000">5</text>
<text x="100.50" y="1027.60" font-size="31" text-anchor="end" font-weight="normal" fill="#000">0.8</text>
<line x1="106.50" y1="907.62" x2="118.00" y2="907.62" stroke="#000" stroke-width="2.3"/>
<text x="100.50" y="919.73" font-size="31" text-anchor="end" font-weight="normal" fill="#000">0.9</text>
<line x1="106.50" y1="799.75" x2="118.00" y2="799.75" stroke="#000" stroke-width="2.3"/>
<text x="100.50" y="811.85" font-size="31" text-anchor="end" font-weight="normal" fill="#000">1.0</text>
<line x1="106.50" y1="691.88" x2="118.00" y2="691.88" stroke="#000" stroke-width="2.3"/>
<text x="100.50" y="703.98" font-size="31" text-anchor="end" font-weight="normal" fill="#000">1.1</text>
<text x="100.50" y="596.10" font-size="31" text-anchor="end" font-weight="normal" fill="#000">1.2</text>
<text x="398.50" y="1086.00" font-size="31" text-anchor="middle" font-weight="normal" fill="#000">Time (min)</text>
<text x="48.20" y="798.80" font-size="31" text-anchor="middle" font-weight="normal" fill="#000" transform="rotate(-90 48.2 798.8)">Voltage (V)</text>
<text x="-0.50" y="601.30" font-size="42" text-anchor="start" font-weight="bold" fill="#000">(c)</text>
<circle cx="171.5" cy="624" r="9.7" fill="#2B3A98"/>
<circle cx="171.5" cy="664.7" r="9.7" fill="#E02A20"/>
<text x="189.20" y="631.10" font-size="30" text-anchor="start" font-weight="bold" fill="#3A4CA0">Slow</text>
<text x="189.20" y="672.90" font-size="30" text-anchor="start" font-weight="bold" fill="#E02A20">Fast</text>
<defs><linearGradient id="gy" gradientUnits="userSpaceOnUse" x1="838.7" x2="1415.5" y1="0" y2="0"><stop offset="0" stop-color="#FBF5CD"/><stop offset="0.16" stop-color="#FCF7D2"/><stop offset="0.38" stop-color="#FDF9DB"/><stop offset="0.45" stop-color="#FEFBE7"/><stop offset="0.56" stop-color="#FFFDF3"/><stop offset="0.60" stop-color="#FFFFFC"/><stop offset="0.63" stop-color="#FFFFFF"/></linearGradient></defs>
<rect x="838.60" y="590.00" width="576.90" height="432.60" fill="url(#gy)" stroke="none" stroke-width="0"/>
<polyline points="872.80,991.40 873.31,991.48 874.05,991.61 874.89,991.74 875.75,991.82 876.50,991.80 877.15,991.68 877.76,991.49 878.35,991.24 878.92,990.94 879.50,990.60 880.08,990.21 880.66,989.76 881.23,989.26 881.78,988.74 882.30,988.20 882.77,987.64 883.20,987.05 883.62,986.44 884.08,985.82 884.60,985.19 885.20,984.58 885.85,983.95 886.54,983.32 887.26,982.67 888.00,981.99 888.83,981.21 889.75,980.35 890.66,979.49 891.45,978.75 892.00,978.23 896.00,974.47 910.76,960.67 925.53,946.96 940.29,933.34 955.05,919.82 969.81,906.40 984.58,893.06 999.34,879.82 1014.10,866.68 1028.87,853.63 1043.63,840.68 1058.39,827.81 1073.16,815.05 1087.92,802.37 1102.68,789.80 1117.44,777.31 1132.21,764.92 1146.97,752.62 1161.73,740.42 1176.50,728.32 1191.26,716.30 1206.02,704.38 1220.79,692.56 1235.55,680.83 1250.31,669.19 1265.07,657.65 1279.84,646.20 1294.60,634.85 1310.00,635.20 1332.20,636.20 1332.50,684.30 1336.00,682.00 1342.20,679.40 1358.00,678.80 1370.50,678.20" fill="none" stroke="#111" stroke-width="4.6" stroke-linejoin="round" stroke-linecap="round"/>
<ellipse cx="1332.9" cy="658.4" rx="33" ry="34.8" fill="none" stroke="#F2B8C0" stroke-width="4.5" stroke-opacity="0.6"/><ellipse cx="1332.9" cy="658.4" rx="33" ry="34.8" fill="none" stroke="#C83048" stroke-width="2.2"/>
<line x1="1303.30" y1="708.70" x2="1266.00" y2="792.00" stroke="#D83020" stroke-width="2.2"/>
<path d="M1259.60,808.30 L1260.48,787.39 L1265.83,794.11 L1274.39,793.50 Z" fill="#D83020"/>
<rect x="838.60" y="590.00" width="576.90" height="432.60" fill="none" stroke="#000" stroke-width="2.4"/>
<line x1="875.80" y1="1022.60" x2="875.80" y2="1009.80" stroke="#000" stroke-width="2.3"/>
<text x="876.30" y="1054.40" font-size="31" text-anchor="middle" font-weight="normal" fill="#000">0</text>
<line x1="970.00" y1="1022.60" x2="970.00" y2="1009.80" stroke="#000" stroke-width="2.3"/>
<text x="970.50" y="1054.40" font-size="31" text-anchor="middle" font-weight="normal" fill="#000">150</text>
<line x1="1064.20" y1="1022.60" x2="1064.20" y2="1009.80" stroke="#000" stroke-width="2.3"/>
<text x="1064.70" y="1054.40" font-size="31" text-anchor="middle" font-weight="normal" fill="#000">300</text>
<line x1="1158.40" y1="1022.60" x2="1158.40" y2="1009.80" stroke="#000" stroke-width="2.3"/>
<text x="1158.90" y="1054.40" font-size="31" text-anchor="middle" font-weight="normal" fill="#000">450</text>
<line x1="1252.60" y1="1022.60" x2="1252.60" y2="1009.80" stroke="#000" stroke-width="2.3"/>
<text x="1253.10" y="1054.40" font-size="31" text-anchor="middle" font-weight="normal" fill="#000">600</text>
<line x1="1346.80" y1="1022.60" x2="1346.80" y2="1009.80" stroke="#000" stroke-width="2.3"/>
<text x="1347.30" y="1054.40" font-size="31" text-anchor="middle" font-weight="normal" fill="#000">750</text>
<line x1="838.60" y1="989.10" x2="849.40" y2="989.10" stroke="#000" stroke-width="2.3"/>
<text x="832.50" y="1000.40" font-size="31" text-anchor="end" font-weight="normal" fill="#000">0.0</text>
<line x1="838.60" y1="922.45" x2="849.40" y2="922.45" stroke="#000" stroke-width="2.3"/>
<text x="832.50" y="933.75" font-size="31" text-anchor="end" font-weight="normal" fill="#000">0.5</text>
<line x1="838.60" y1="855.80" x2="849.40" y2="855.80" stroke="#000" stroke-width="2.3"/>
<text x="832.50" y="867.10" font-size="31" text-anchor="end" font-weight="normal" fill="#000">1.0</text>
<line x1="838.60" y1="789.15" x2="849.40" y2="789.15" stroke="#000" stroke-width="2.3"/>
<text x="832.50" y="800.45" font-size="31" text-anchor="end" font-weight="normal" fill="#000">1.5</text>
<line x1="838.60" y1="722.50" x2="849.40" y2="722.50" stroke="#000" stroke-width="2.3"/>
<text x="832.50" y="733.80" font-size="31" text-anchor="end" font-weight="normal" fill="#000">2.0</text>
<line x1="838.60" y1="655.85" x2="849.40" y2="655.85" stroke="#000" stroke-width="2.3"/>
<text x="832.50" y="667.15" font-size="31" text-anchor="end" font-weight="normal" fill="#000">2.5</text>
<text x="832.50" y="600.50" font-size="31" text-anchor="end" font-weight="normal" fill="#000">3.0</text>
<text x="1130.60" y="1090.00" font-size="31" text-anchor="middle" font-weight="normal" fill="#000">Time (s)</text>
<text x="779.00" y="807.00" font-size="31" text-anchor="middle" font-weight="normal" fill="#000" transform="rotate(-90 779 807)">Voltage (V)</text>
<text x="728.00" y="601.30" font-size="42" text-anchor="start" font-weight="bold" fill="#000">(d)</text>
<text x="1039.20" y="720.40" font-size="30.5" text-anchor="middle" font-weight="bold" fill="#2F4A24">Charging curve</text>
<text x="1251.60" y="843.50" font-size="30.5" text-anchor="middle" font-weight="bold" fill="#D3322A">Signal emission</text>
<text x="1251.70" y="881.60" font-size="30.5" text-anchor="middle" font-weight="bold" fill="#111">0.3 V drop</text></svg>
</body></html>
